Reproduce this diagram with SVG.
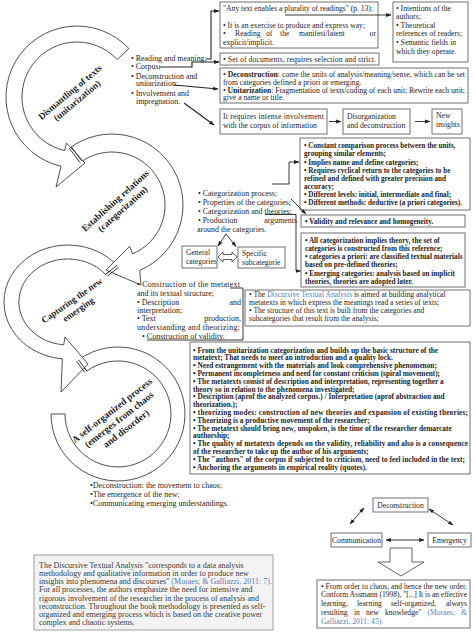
<svg xmlns="http://www.w3.org/2000/svg" width="474" height="635" viewBox="0 0 474 635">
<defs>
<style>
text{font-family:"Liberation Serif","Times New Roman",serif;fill:#1e1e1e}
.s77{font-size:7.7px}
.s79{font-size:7.9px}
.s76{font-size:7.6px}
.s8{font-size:8px}
.bh{font-size:7.2px;font-weight:bold}
.bl{font-size:7.3px;font-weight:bold}
.rt{font-weight:bold}
.box{fill:#fff;stroke:#707070;stroke-width:1}
.ring{fill:#fff;stroke:#3c3c3c;stroke-width:0.9}
.ln{fill:none;stroke:#222;stroke-width:0.9}
.blue{fill:#5a7db3}
</style>
<marker id="ah" viewBox="0 0 10 10" refX="9" refY="5" markerWidth="5.5" markerHeight="5.5" markerUnits="userSpaceOnUse" orient="auto-start-reverse"><path d="M0,1.5L10,5L0,8.5z" fill="#222"/></marker>
</defs>
<rect width="474" height="635" fill="#fff"/>

<!-- rings -->
<g id="ring4">
<path class="ring" d="M78.6,359.8A67,67 0 1 1 51,414L65,414A53,53 0 1 0 86.8,371.1Z"/>
<text class="rt" font-size="9.6" text-anchor="middle" transform="translate(119,419.5) rotate(-38)"><tspan x="0" y="-8.3">A self-organized process</tspan><tspan x="0" y="3.2">(emerges from chaos</tspan><tspan x="0" y="14.7">and disorder)</tspan></text>
</g>
<g id="ring3">
<path class="ring" d="M117,265.4A64,57 0 1 0 62.4,358.8L61,392L88,364L65,337L63.7,344.8A49,43 0 1 1 105.5,274.4Z"/>
<text class="rt" font-size="9" text-anchor="middle" transform="translate(75,305) rotate(-35)"><tspan x="0" y="-2.5">Capturing the new</tspan><tspan x="0" y="8.5">emerging</tspan></text>
</g>
<g id="ring2">
<path class="ring" d="M69.3,148.3A71,71 0 1 1 139.7,270.4L141,285L106,270L129.6,246.4L132.7,253.8A53,53 0 1 0 80.1,162.7Z"/>
<text class="rt" font-size="9.4" text-anchor="middle" transform="translate(119,205) rotate(-42)"><tspan x="0" y="-2.5">Establishing relations</tspan><tspan x="0" y="8.5">(categorization)</tspan></text>
</g>
<g id="ring1">
<path class="ring" d="M128.9,48.6A71,71 0 1 0 61,166.2L56,187L85,163L66.5,143L64.6,150.6A55,55 0 1 1 117.2,59.5Z"/>
<text class="rt" font-size="9.3" text-anchor="middle" transform="translate(73.5,96.5) rotate(-40)"><tspan x="0" y="-2.5">Dismantling of texts</tspan><tspan x="0" y="8.5">(unitarization)</tspan></text>
</g>
<path class="ln" d="M69.3,148.3L80.1,162.7M71.3,146.8L82.1,161.2M117,265.4L105.5,274.4M118.7,267.2L107.2,276.2M78.6,359.8L86.8,371.1M76.6,361.3L84.8,372.6"/>

<!-- left lists -->
<g id="list-unitarization" class="s79">
<text x="131" y="60.8">• Reading and meaning;</text>
<text x="131" y="68.8">• Corpus;</text>
<text x="131" y="78.8">• Deconstruction and</text>
<text x="136" y="86.3">unitarization;</text>
<text x="131" y="95.8">• Involvement and</text>
<text x="136" y="103.8">impregnation.</text>
</g>
<g id="list-categorization" class="s79">
<text x="198" y="195.8">• Categorization process;</text>
<text x="198" y="204.8">• Properties of the categories;</text>
<text x="198" y="213.8">• Categorization and theories;</text>
<text x="198" y="222.8">• Production</text><text x="297" y="222.8" text-anchor="end">arguments</text>
<text x="197" y="231.8">around the categories.</text>
</g>
<g id="list-metatext" class="s8">
<text x="137" y="286.8" textLength="103">• Construction of the metatext</text>
<text x="137" y="295.8">and its textual structure;</text>
<text x="137" y="304.8">• Description</text><text x="241" y="304.8" text-anchor="end">and</text>
<text x="137" y="312.8">interpretation;</text>
<text x="137" y="320.8">• Text</text><text x="241" y="320.8" text-anchor="end">production,</text>
<text x="137" y="329.8" textLength="103">understanding and theorizing;</text>
<text x="142" y="338.8">• Construction of validity.</text>
</g>
<g id="list-self" class="s8">
<text x="90" y="487.8">•Deconstruction: the movement to chaos;</text>
<text x="90" y="496.8">•The emergence of the new;</text>
<text x="90" y="505.8">•Communicating emerging understandings.</text>
</g>

<!-- boxes -->
<g id="boxA" class="s77">
<rect class="box" x="220" y="2" width="158" height="46"/>
<text x="223" y="10.8" textLength="150">"Any text enables a plurality of readings" (p. 13);</text>
<text x="223" y="27.8">• It is an exercise to produce and express way;</text>
<text x="223" y="35.8">•</text><text x="235" y="35.8">Reading</text><text x="266" y="35.8">of</text><text x="280" y="35.8">the</text><text x="299" y="35.8">manifest/latent</text><text x="376" y="35.8" text-anchor="end">or</text>
<text x="223" y="44.8">explicit/implicit.</text>
</g>
<g id="boxB" class="s77">
<rect class="box" x="393" y="2" width="75" height="60"/>
<text x="396" y="10.8">• Intentions of the</text>
<text x="396" y="19.3">authors;</text>
<text x="396" y="27.8">• Theoretical</text>
<text x="396" y="36.3">references of readers;</text>
<text x="396" y="45.3">• Semantic fields in</text>
<text x="396" y="53.8">which they operate.</text>
</g>
<g id="boxC" class="s77">
<rect class="box" x="220" y="53" width="159" height="12"/>
<text x="223" y="62.3" textLength="153">• Set of documents, requires selection and strict.</text>
</g>
<g id="boxD" class="s77">
<rect class="box" x="220" y="68" width="248" height="35"/>
<text x="223" y="76.8" textLength="242">• <tspan font-weight="bold">Deconstruction</tspan>: come the units of analysis/meaning/sense, which can be set</text>
<text x="223" y="84.8">from categories defined a priori or emerging.</text>
<text x="223" y="92.8" textLength="242">• <tspan font-weight="bold">Unitarization</tspan>: Fragmentation of texts/coding of each unit; Rewrite each unit;</text>
<text x="223" y="100.3">give a name or title.</text>
</g>
<g id="boxE" class="s77">
<rect class="box" x="220" y="109" width="107" height="25"/>
<text x="223" y="118.8" textLength="101">It requires intense involvement</text>
<text x="223" y="127.8">with the corpus of information</text>
</g>
<g id="boxF" class="s77">
<rect class="box" x="343" y="109" width="67" height="25"/>
<text x="347" y="118.8">Disorganization</text>
<text x="347" y="127.8">and deconstruction</text>
</g>
<g id="boxG" class="s77">
<rect class="box" x="432" y="109" width="30" height="25"/>
<text x="436" y="117.8">New</text>
<text x="436" y="126.8">insights</text>
</g>
<g id="boxH" class="bh">
<rect class="box" x="300" y="138" width="170" height="72"/>
<text x="304" y="147.5">• Constant comparison process between the units,</text>
<text x="304" y="155.5">grouping similar elements;</text>
<text x="304" y="164.5">• Implies name and define categories;</text>
<text x="304" y="172.5">• Requires cyclical return to the categories to be</text>
<text x="304" y="180.5">refined and defined with greater precision and</text>
<text x="304" y="188.5">accuracy;</text>
<text x="304" y="196.5">• Different levels: initial, intermediate and final;</text>
<text x="304" y="204.5">• Different methods: deductive (a priori categories).</text>
</g>
<g id="boxI" class="bh">
<rect class="box" x="301" y="215" width="164" height="12"/>
<text x="305" y="223.5">• Validity and relevance and homogeneity.</text>
</g>
<g id="boxJ" class="bh">
<rect class="box" x="301" y="233" width="164" height="54"/>
<text x="305" y="242.5">• All categorization implies theory, the set of</text>
<text x="305" y="250.5">categories is constructed from this reference;</text>
<text x="305" y="258.5">• categories a priori: are classified textual materials</text>
<text x="305" y="266.5">based on pre-defined theories;</text>
<text x="305" y="275.5">• Emerging categories: analysis based on implicit</text>
<text x="305" y="283.5">theories, theories are adopted later.</text>
</g>
<g id="boxGeneral" class="s76">
<rect class="box" x="182" y="246" width="35" height="22"/>
<text x="186" y="254.5">General</text>
<text x="186" y="263.5">categories</text>
</g>
<g id="boxSpecific" class="s76">
<rect class="box" x="238" y="247" width="47" height="21"/>
<text x="242" y="255.5">Specific</text>
<text x="242" y="264.5">subcategorie</text>
</g>
<g id="boxK" class="s76">
<rect class="box" x="245" y="290" width="225" height="36"/>
<text x="249" y="296.7">• The <tspan class="blue">Discursive Textual Analysis</tspan> is aimed at building analytical</text>
<text x="249" y="304.7">metatexts in which express the meanings read a series of texts;</text>
<text x="249" y="312.7">• The structure of this text is built from the categories and</text>
<text x="249" y="320.7">subcategories that result from the analysis;</text>
</g>
<g id="boxL" class="bl">
<rect class="box" x="190" y="342" width="280" height="132"/>
<text x="193" y="352.6">• From the unitarization categorization and builds up the basic structure of the</text>
<text x="193" y="360.4">metatext; That needs to meet an introduction and a quality lock.</text>
<text x="193" y="368.2">• Need estrangement with the materials and look comprehensive phenomenon;</text>
<text x="193" y="376">• Permanent incompleteness and need for constant criticism (spiral movement);</text>
<text x="193" y="383.8">• The metatexts consist of description and interpretation, representing together a</text>
<text x="193" y="391.6">theory so in relation to the phenomena investigated;</text>
<text x="193" y="399.4">• Description (aprof the analyzed corpus.) / Interpretation (aprof abstraction and</text>
<text x="193" y="407.2">theorization.);</text>
<text x="193" y="415" textLength="275">• theorizing modes: construction of new theories and expansion of existing theories;</text>
<text x="193" y="422.8">• Theorizing is a productive movement of the researcher;</text>
<text x="193" y="430.6">• The metatext should bring new, unspoken, is the time of the researcher demarcate</text>
<text x="193" y="438.4">authorship;</text>
<text x="193" y="446.2" textLength="275">• The quality of metatexts depends on the validity, reliability and also is a consequence</text>
<text x="193" y="454">of the researcher to take up the author of his arguments;</text>
<text x="193" y="461.8" textLength="272">• The "authors" of the corpus if subjected to criticism, need to feel included in the text;</text>
<text x="193" y="469.6">• Anchoring the arguments in empirical reality (quotes).</text>
</g>
<g id="boxDeconstruction" class="s76">
<rect class="box" x="373" y="498" width="55" height="14"/>
<text x="400.5" y="507.7" text-anchor="middle">Deconstruction</text>
</g>
<g id="boxCommunication" class="s76">
<rect class="box" x="331" y="533" width="51" height="14"/>
<text x="356.5" y="542.7" text-anchor="middle">Communication</text>
</g>
<g id="boxEmergency" class="s76">
<rect class="box" x="428" y="533" width="43" height="14"/>
<text x="449.5" y="542.7" text-anchor="middle">Emergency</text>
</g>
<g id="boxOrder" class="s76">
<rect class="box" x="317" y="580" width="153" height="48"/>
<text x="321" y="588.7" textLength="146">• From order to chaos, and hence the new order.</text>
<text x="321" y="597.2" textLength="146">Conform Assmann (1998), "[...] It is an effective</text>
<text x="321" y="605.7">learning,</text><text x="357" y="605.7">learning</text><text x="391" y="605.7">self-organized,</text><text x="467" y="605.7" text-anchor="end">always</text>
<text x="321" y="614.7">resulting</text><text x="354" y="614.7">in</text><text x="366" y="614.7">new</text><text x="385" y="614.7">knowledge"</text><text x="427.5" y="614.7" class="blue">(Moraes;</text><text x="467" y="614.7" text-anchor="end" class="blue">&amp;</text>
<text x="321" y="623.7" class="blue">Galliazzi, 2011: 45).</text>
</g>
<g id="boxSummary">
<rect x="34" y="555" width="239" height="75" fill="#f3f3f3" stroke="#a0a0a0" stroke-width="1"/>
<g font-size="8">
<text x="39" y="567.8" style="fill:#3a3a3a">The Discursive Textual Analysis "corresponds to a data analysis</text>
<text x="39" y="575.8" style="fill:#3a3a3a">methodology and qualitative information in order to produce new</text>
<text x="39" y="584.3" style="fill:#3a3a3a">insights into phenomena and discourses" <tspan class="blue">(Moraes; &amp; Galliazzi, 2011: 7).</tspan></text>
<text x="39" y="592.3" style="fill:#3a3a3a">For all processes, the authors emphasize the need for intensive and</text>
<text x="39" y="600.8" style="fill:#3a3a3a">rigorous involvement of the researcher in the process of analysis and</text>
<text x="39" y="608.8" style="fill:#3a3a3a">reconstruction. Throughout the book methodology is presented as self-</text>
<text x="39" y="616.8" style="fill:#3a3a3a">organized and emerging process which is based on the creative power</text>
<text x="39" y="624.8" style="fill:#3a3a3a">complex and chaotic systems.</text>
</g>
</g>

<!-- connectors -->
<g id="connectors" class="ln">
<polyline points="206,59 211,59 211,11 219,11" stroke-width="1.1" marker-end="url(#ah)"/>
<polyline points="159,67 192,67 192,62 219,62" stroke-width="1.1" marker-end="url(#ah)"/>
<line x1="174" y1="85" x2="218" y2="89" stroke-width="1.1" marker-end="url(#ah)"/>
<line x1="184" y1="103" x2="214" y2="125" stroke-width="1.1" marker-end="url(#ah)"/>
<line x1="285" y1="15" x2="391" y2="15" marker-end="url(#ah)"/>
<line x1="329" y1="121.5" x2="341" y2="121.5" marker-end="url(#ah)"/>
<line x1="415" y1="121.5" x2="430" y2="121.5" marker-end="url(#ah)"/>
<polyline points="272,184 289,184 289,162 299,162" marker-end="url(#ah)"/>
<line x1="291" y1="199" x2="306" y2="214" marker-end="url(#ah)"/>
<polyline points="265,214.5 296,214.5 296,271 300.5,271" marker-end="url(#ah)"/>
<line x1="226" y1="234" x2="218" y2="246" marker-end="url(#ah)"/>
<line x1="226" y1="234" x2="236" y2="246.5" marker-end="url(#ah)"/>
<polygon points="218,257 223,252 223,254.5 232,254.5 232,252 237,257 232,262 232,259.5 223,259.5 223,262" fill="#fff" stroke="#333" stroke-width="0.8"/>
<polyline points="230,288 243,288 243,340 147,340"/>
<line x1="364" y1="508" x2="350" y2="524" marker-start="url(#ah)" marker-end="url(#ah)"/>
<line x1="429" y1="509" x2="453" y2="525" marker-start="url(#ah)" marker-end="url(#ah)"/>
<line x1="386" y1="540" x2="424" y2="540" marker-start="url(#ah)" marker-end="url(#ah)"/>
<polygon points="390,548 412,548 412,562 424,562 401,576 378,562 390,562" fill="#fff" stroke="#555" stroke-width="0.9"/>
</g>
</svg>
